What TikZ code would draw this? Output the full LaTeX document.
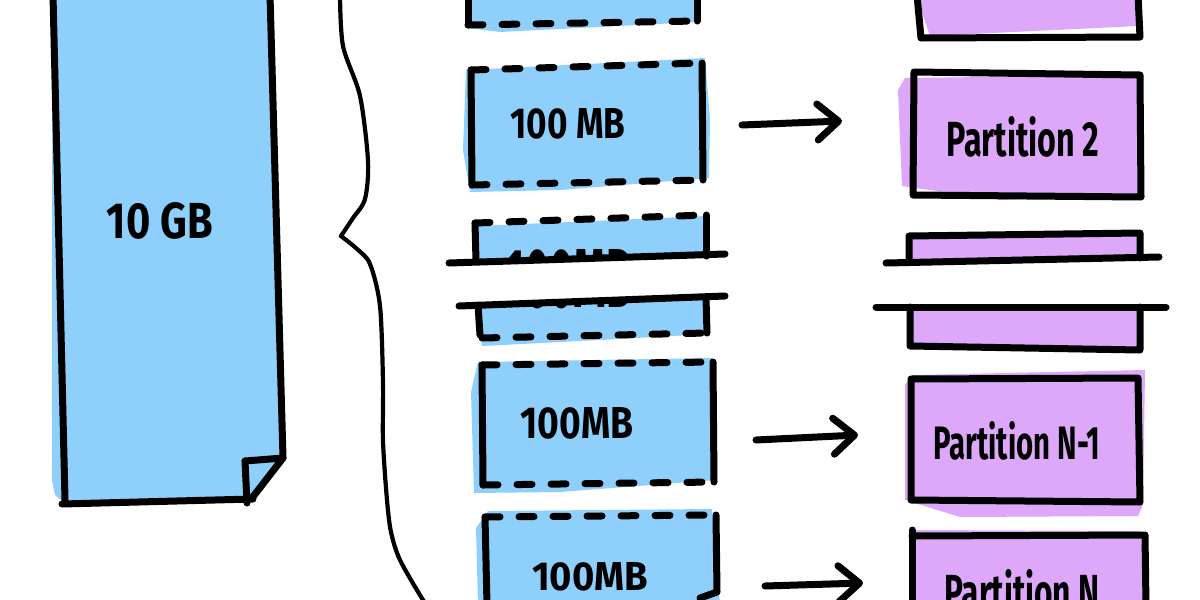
\documentclass[tikz,border=0pt]{standalone}
\usepackage{fontspec}
\setmainfont{Fira Sans}
\usepackage{graphicx}
\usetikzlibrary{arrows.meta}
\definecolor{fileblue}{RGB}{143,207,251}
\definecolor{partpurple}{RGB}{221,168,250}
\newcommand\sizedtext[3]{\resizebox{#1}{#2}{\bfseries #3}}
\begin{document}
\begin{tikzpicture}[x=1pt,y=-1pt,
  ink/.style={line width=7pt,line cap=round,line join=round},
  dashink/.style={ink,dash pattern=on 15pt off 19pt},
  thinink/.style={line width=4.2pt,line cap=round,line join=round},
  bluefill/.style={fill=fileblue},
  purplefill/.style={fill=partpurple},
  lbl/.style={inner sep=0pt},
  arrowink/.style={ink,-{Straight Barb[length=21pt,width=36pt,round]}},
  band/.style={fill=white}]
\useasboundingbox (0,0) rectangle (1200,600);
\clip (0,0) rectangle (1200,600);

% ---- big file (10 GB)
\fill[bluefill] (52,-5) -- (271,-5) -- (283,458) -- (251,500) -- (64,503) -- (55,495) -- (52,480) -- cycle;
\draw[ink] (53,-5) -- (65,500);
\draw[ink] (270,-5) -- (283,458);
\draw[ink] (62,504) -- (253,499);
\draw[ink] (245,461) -- (283,458) -- (252,498);
\draw[ink] (245,461) -- (247,503);
\node[lbl] (gb) at (160,221) {\sizedtext{106pt}{36pt}{10 GB}};

% ---- brace
\draw[thinink] plot[smooth] coordinates {(340,-5) (343,46) (360,96) (368,161) (365,199) (353,218) (341,236)};
\draw[thinink] plot[smooth] coordinates {(341,236) (357,249) (370,264) (380,306) (383,383) (383,441) (387,500) (391,532) (400,560) (423,600) (430,608)};

% ---- blue chunks
% chunk 1 (top, partial)
\fill[bluefill] (466,-5) -- (697,-5) -- (698,22) -- (500,32) -- (468,28) -- cycle;
\draw[ink] (468,-5) -- (468,25);
\draw[ink] (697,-5) -- (697,21);
\draw[dashink] (468,25) -- (697,21);

% chunk 2
\fill[bluefill] (466,70) -- (705,58) -- (710,120) -- (709,178) -- (560,190) -- (470,192) -- (463,150) -- cycle;
\draw[ink] (471,70) -- (472,185);
\draw[ink] (702,63) -- (703,180);
\draw[dashink] (471,70) -- (702,63);
\draw[dashink] (472,185) -- (703,180);
\node[lbl] (b2) at (568,124) {\sizedtext{115pt}{30pt}{100 MB}};

% chunk 3 (broken)
\fill[bluefill] (478,226) -- (706,216) -- (706,258) -- (478,262) -- cycle;
\fill[bluefill] (478,300) -- (706,296) -- (708,334) -- (600,340) -- (482,346) -- cycle;
\node[lbl] (b3) at (569,279) {\sizedtext{126pt}{58pt}{100MB}};
\fill[band] (449,263) -- (725,254) -- (725,296) -- (459,306) -- cycle;
\draw[ink] (449,263) -- (725,254);
\draw[ink] (459,306) -- (725,296);
\draw[ink] (475,223) -- (476,261);
\draw[ink] (706,215) -- (706,256);
\draw[dashink] (475,223) -- (706,215);
\draw[ink] (478,305) -- (480,335);
\draw[ink] (706,298) -- (707,333);
\draw[dashink] (482,338) -- (707,333);

% chunk 4
\fill[bluefill] (471,392) -- (478,362) -- (712,358) -- (716,480) -- (560,492) -- (474,493) -- cycle;
\draw[ink] (482,365) -- (483,485);
\draw[ink] (713,362) -- (714,482);
\draw[dashink] (482,365) -- (713,362);
\draw[dashink] (483,485) -- (714,482);
\node[lbl] (b4) at (577,423) {\sizedtext{113pt}{31pt}{100MB}};

% chunk 5
\fill[bluefill] (476,528) -- (488,511) -- (712,509) -- (720,605) -- (478,605) -- cycle;
\draw[ink] (485,517) -- (487,605);
\draw[ink] (716,515) -- (717,592) -- (700,598);
\draw[dashink] (485,517) -- (716,515);
\node[lbl] (b5) at (590,577) {\sizedtext{116pt}{28pt}{100MB}};

% ---- arrows
\coordinate (a1s) at (742,125); \coordinate (a1e) at (842,121);
\coordinate (a2s) at (756,440); \coordinate (a2e) at (858,435);
\coordinate (a3s) at (765,586); \coordinate (a3e) at (863,583);
\draw[arrowink] (a1s) -- (a1e);
\draw[arrowink] (a2s) -- (a2e);
\draw[arrowink] (a3s) -- (a3e);

% ---- purple partitions
% partition 1 (top, partial)
\fill[purplefill] (916,-5) -- (1140,-5) -- (1138,26) -- (930,36) -- cycle;
\draw[ink] (917,-5) -- (921,38) -- (1140,37) -- (1138,-5);

% partition 2
\fill[purplefill] (898,90) -- (905,78) -- (1140,75) -- (1141,195) -- (1000,200) -- (902,186) -- cycle;
\draw[ink] (914,72) -- (1140,75) -- (1141,197) -- (913,195) -- cycle;
\node[lbl] (p2) at (1023,137) {\sizedtext{153pt}{40pt}{Partition 2}};

% partition (broken)
\fill[purplefill] (912,237) -- (1138,235) -- (1138,258) -- (912,262) -- cycle;
\fill[purplefill] (912,307) -- (1140,307) -- (1140,348) -- (912,345) -- cycle;
\draw[ink] (909,262) -- (909,236) -- (1140,233) -- (1140,258);
\draw[ink] (886,263) -- (1159,257);
\draw[ink] (876,307) -- (1166,307);
\draw[ink] (910,307) -- (910,346) -- (1140,350) -- (1140,307);

% partition N-1
\fill[purplefill] (905,385) -- (912,375) -- (1145,370) -- (1143,505) -- (1138,516) -- (960,517) -- (905,500) -- cycle;
\draw[ink] (911,379) -- (1138,378) -- (1140,502) -- (911,500) -- cycle;
\node[lbl] (p4) at (1017,441) {\sizedtext{167pt}{38pt}{Partition N-1}};

% partition N
\fill[purplefill] (912,530) -- (1140,531) -- (1150,605) -- (912,605) -- cycle;
\draw[ink] (912,530) -- (912,605);
\draw[ink] (912,536) -- (1145,535) -- (1146,605);
\node[lbl] (p5) at (1022,590) {\sizedtext{155pt}{40pt}{Partition N}};
\end{tikzpicture}
\end{document}
